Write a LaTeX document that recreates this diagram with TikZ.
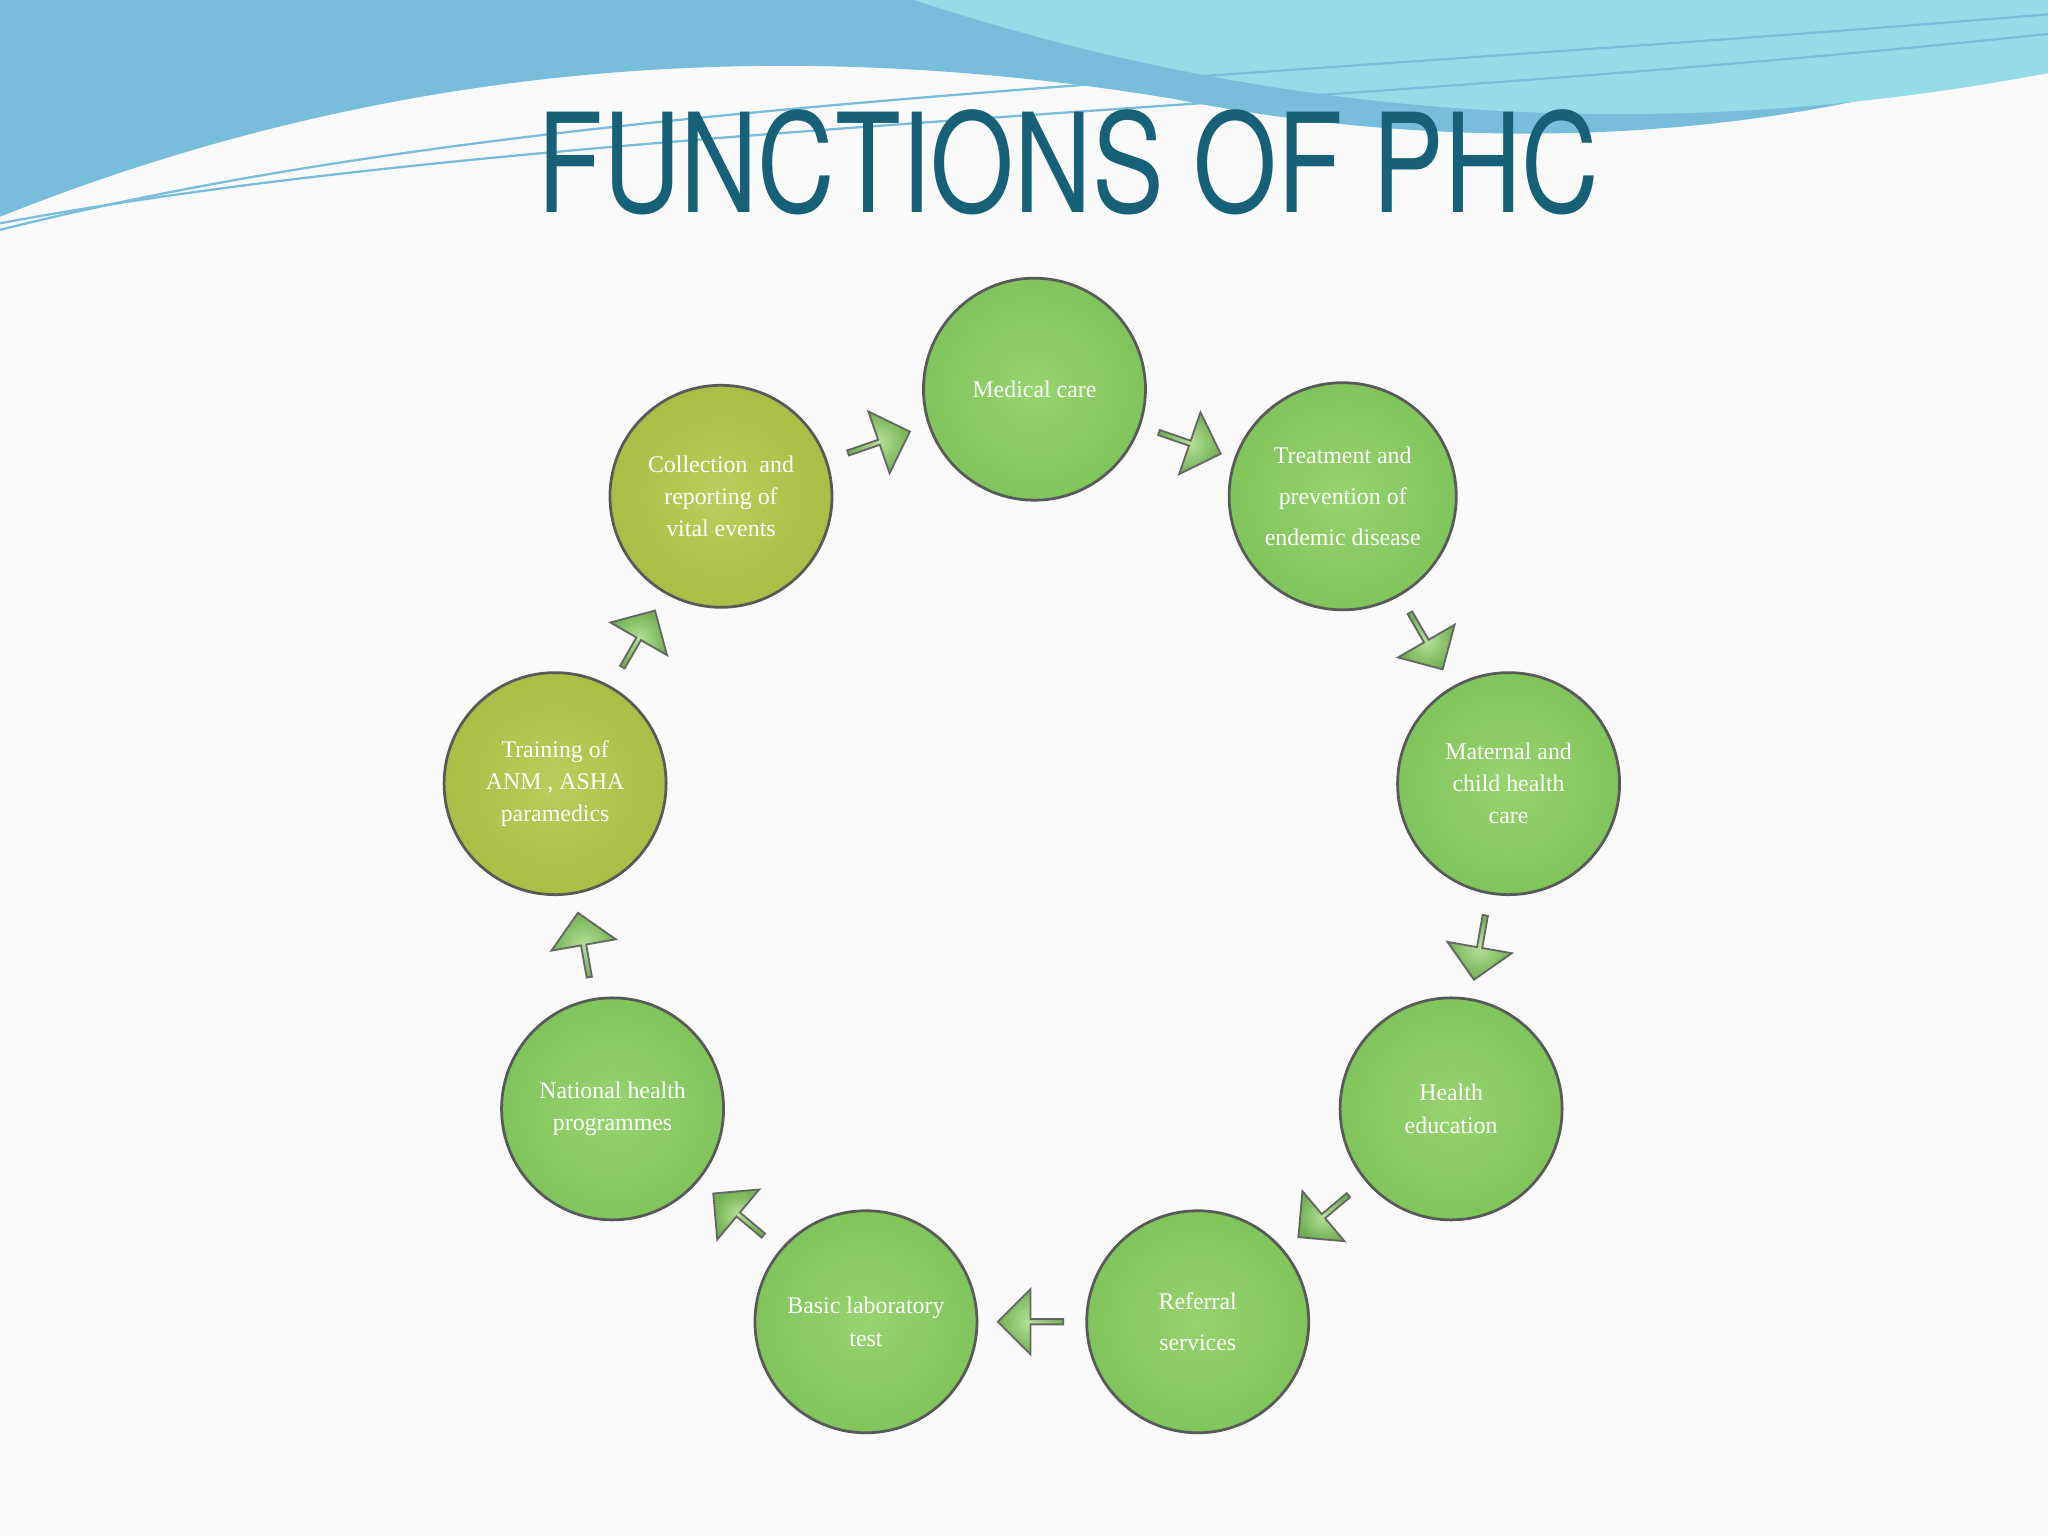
\documentclass[tikz,border=0pt]{standalone}
\usepackage{fontspec}
\setmainfont{Liberation Serif}
\newfontfamily\titlefont{TeX Gyre Heros}
\usetikzlibrary{shapes.arrows,calc}
\definecolor{titleteal}{RGB}{22,96,120}
\definecolor{ballgreen}{RGB}{128,196,92}
\definecolor{balllight}{RGB}{150,212,110}
\definecolor{ballolive}{RGB}{170,190,70}
\definecolor{ballolivelight}{RGB}{186,204,90}
\definecolor{wavea}{RGB}{120,190,220}
\definecolor{waveb}{RGB}{150,220,230}
\tikzset{
  ball/.style={circle, minimum size=1.7cm, draw=black!65, line width=0.6pt,
    inner color=balllight, outer color=ballgreen, text=white,
    font=\fontsize{5.2}{7}\selectfont, align=center},
  oliveball/.style={ball, inner color=ballolivelight, outer color=ballolive},
  flowarrow/.style={single arrow, draw=black!60, line width=0.4pt,
    inner color=balllight!70, outer color=ballgreen!90!black,
    minimum height=0.5cm, minimum width=0.5cm, single arrow head extend=0.08cm,
    inner sep=0pt}
}
\begin{document}
\begin{tikzpicture}
    \useasboundingbox (0,0) rectangle (15.68,11.76);
    \fill[white!96!gray] (0,0) rectangle (15.68,11.76);

    % top waves
    \fill[wavea] (0,11.76) -- (0,10.1) .. controls (3,11.3) and (6,11.5) .. (9,11.0)
        .. controls (11,10.6) and (13.5,10.6) .. (15.68,11.4) -- (15.68,11.76) -- cycle;
    \fill[waveb] (7,11.76) .. controls (9,11.1) and (12,10.5) .. (15.68,11.2)
        -- (15.68,11.76) -- cycle;
    \draw[wavea, line width=0.5pt] (0,10.0) .. controls (4,11.0) and (9,11.1) .. (15.68,11.65);
    \draw[wavea, line width=0.5pt] (0,10.05) .. controls (4,10.8) and (10,10.9) .. (15.68,11.5);

    % title
    \node[text=titleteal, font=\titlefont\fontsize{30}{32}\selectfont, xscale=0.78, transform shape]
        (title) at (8.18,10.52) {FUNCTIONS OF PHC};

    % circles
    \node[ball] (medical) at (7.92,8.78) {Medical care};
    \node[ball] (treatment) at (10.28,7.96) {Treatment and\\[2pt] prevention of\\[2pt] endemic disease};
    \node[ball] (maternal) at (11.55,5.76) {Maternal and\\ child health\\ care};
    \node[ball] (education) at (11.11,3.27) {Health\\ education};
    \node[ball] (referral) at (9.17,1.64) {Referral\\[2pt] services};
    \node[ball] (laboratory) at (6.63,1.64) {Basic laboratory\\ test};
    \node[ball] (national) at (4.69,3.27) {National health\\ programmes};
    \node[oliveball] (training) at (4.25,5.76) {Training of\\ ANM , ASHA\\ paramedics};
    \node[oliveball] (collection) at (5.52,7.96) {Collection\ \ and\\ reporting of\\ vital events};

    % arrows between circles
    \foreach \a/\b/\ang in {medical/treatment/-19, treatment/maternal/-60,
        maternal/education/-100, education/referral/-140, referral/laboratory/180,
        laboratory/national/140, national/training/100, training/collection/60,
        collection/medical/19}
        \node[flowarrow, rotate=\ang] (arrow-\a) at ($(\a)!0.5!(\b)$) {};
\end{tikzpicture}
\end{document}
